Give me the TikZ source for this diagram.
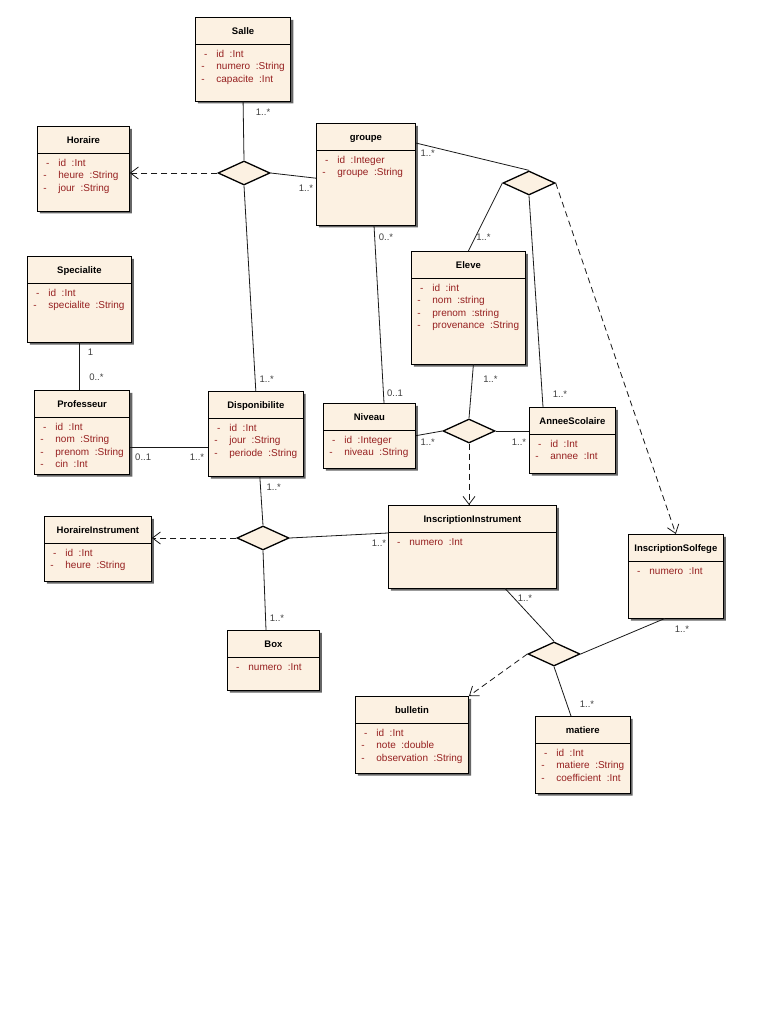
\documentclass[tikz,border=0pt]{standalone}
\usepackage{fontspec}
\setmainfont{Liberation Sans}
\usetikzlibrary{arrows.meta,calc,shapes.geometric,shapes.multipart,shadows}

\definecolor{classfill}{RGB}{252,241,226}
\definecolor{attrred}{RGB}{150,32,32}
\definecolor{multgray}{RGB}{64,64,64}

% class compartments (cattr takes the full box height in pt)
\newcommand{\cname}[1]{\rule[-9pt]{0pt}{26pt}{\bfseries\fontsize{9.5}{11}\selectfont #1}}
\newenvironment{cattr}[1]{\def\cdep{\dimexpr #1pt-40.5pt\relax}%
  \color{attrred}\begin{tabular}[t]{@{}p{15pt}@{}l@{}}\rule{0pt}{12.5pt}}%
  {\end{tabular}\rule[-\cdep]{0pt}{\cdep}}

\begin{document}
\begin{tikzpicture}[
    x=1pt, y=-1pt,
    classbox/.style={rectangle split, rectangle split parts=2,
                     rectangle split part align={center,left},
                     draw=black, line width=0.8pt, fill=classfill,
                     drop shadow={shadow xshift=2.5pt, shadow yshift=-2.5pt,
                                  fill=black!60, opacity=1},
                     anchor=north west, inner xsep=6pt, inner ysep=0pt,
                     font={\fontsize{10}{12.5}\selectfont}, text=black},
    link/.style    ={diamond, draw=black, line width=1.3pt,
                     fill=classfill, minimum width=52pt, minimum height=24pt,
                     inner sep=0pt},
    assoc/.style   ={draw=black!90, line width=0.8pt},
    dep/.style     ={assoc, dash pattern=on 6pt off 4pt,
                     -{Straight Barb[length=8pt,width=12pt]}},
    mult/.style    ={font={\fontsize{9.5}{11}\selectfont}, text=multgray,
                     inner sep=0pt},
]
\useasboundingbox[fill=white] (0,0) rectangle (768,1024);

% ----------------------------------------------------------------------
%  classes
% ----------------------------------------------------------------------
\node[classbox, minimum width=95pt] (salle) at (195,17)
    {\cname{Salle}\nodepart{second}\begin{cattr}{84}
     - & id~~:Int\\ - & numero~~:String\\ - & capacite~~:Int\end{cattr}};
\node[classbox, minimum width=92pt] (horaire) at (37,126)
    {\cname{Horaire}\nodepart{second}\begin{cattr}{85}
     - & id~~:Int\\ - & heure~~:String\\ - & jour~~:String\end{cattr}};
\node[classbox, minimum width=99pt] (groupe) at (316,123)
    {\cname{groupe}\nodepart{second}\begin{cattr}{102}
     - & id~~:Integer\\ - & groupe~~:String\end{cattr}};
\node[classbox, minimum width=104pt] (specialite) at (27,256)
    {\cname{Specialite}\nodepart{second}\begin{cattr}{86}
     - & id~~:Int\\ - & specialite~~:String\end{cattr}};
\node[classbox, minimum width=95pt] (professeur) at (34,390)
    {\cname{Professeur}\nodepart{second}\begin{cattr}{84}
     - & id~~:Int\\ - & nom~~:String\\ - & prenom~~:String\\ - & cin~~:Int\end{cattr}};
\node[classbox, minimum width=92pt] (dispo) at (208,391)
    {\cname{Disponibilite}\nodepart{second}\begin{cattr}{85}
     - & id~~:Int\\ - & jour~~:String\\ - & periode~~:String\end{cattr}};
\node[classbox, minimum width=114pt] (eleve) at (411,251)
    {\cname{Eleve}\nodepart{second}\begin{cattr}{113}
     - & id~~:int\\ - & nom~~:string\\ - & prenom~~:string\\
     - & provenance~~:String\end{cattr}};
\node[classbox, minimum width=92pt] (niveau) at (323,403)
    {\cname{Niveau}\nodepart{second}\begin{cattr}{65}
     - & id~~:Integer\\ - & niveau~~:String\end{cattr}};
\node[classbox, minimum width=86pt] (annee) at (529,407)
    {\cname{AnneeScolaire}\nodepart{second}\begin{cattr}{66}
     - & id~~:Int\\ - & annee~~:Int\end{cattr}};
\node[classbox, minimum width=107pt] (horinst) at (44,516)
    {\cname{HoraireInstrument}\nodepart{second}\begin{cattr}{65}
     - & id~~:Int\\ - & heure~~:String\end{cattr}};
\node[classbox, minimum width=168pt] (inscinst) at (388,505)
    {\cname{InscriptionInstrument}\nodepart{second}\begin{cattr}{83}
     - & numero~~:Int\end{cattr}};
\node[classbox, minimum width=94pt] (inscsolf) at (628,534)
    {\cname{InscriptionSolfege}\nodepart{second}\begin{cattr}{84}
     - & numero~~:Int\end{cattr}};
\node[classbox, minimum width=92pt] (box) at (227,630)
    {\cname{Box}\nodepart{second}\begin{cattr}{60}
     - & numero~~:Int\end{cattr}};
\node[classbox, minimum width=113pt] (bulletin) at (355,696)
    {\cname{bulletin}\nodepart{second}\begin{cattr}{77}
     - & id~~:Int\\ - & note~~:double\\ - & observation~~:String\end{cattr}};
\node[classbox, minimum width=94pt] (matiere) at (535,716)
    {\cname{matiere}\nodepart{second}\begin{cattr}{77}
     - & id~~:Int\\ - & matiere~~:String\\ - & coefficient~~:Int\end{cattr}};

% ----------------------------------------------------------------------
%  n-ary association diamonds
% ----------------------------------------------------------------------
\node[link] (dsalle)  at (244,173) {};
\node[link] (dgroupe) at (529,183) {};
\node[link] (deleve)  at (469,431) {};
\node[link] (dinst)   at (263,538) {};
\node[link] (dnote)   at (554,654) {};

% --- Salle / groupe / Disponibilite -> Horaire ---
\draw[assoc] (salle.south) -- (dsalle.north)
      node[mult, at start, xshift=20pt, yshift=-11pt] {1..*};
\draw[dep]   (dsalle.west) -- (dsalle.west -| horaire.east);
\draw[assoc] (dsalle.east) -- ([yshift=-4pt]groupe.west)
      node[mult, at end, xshift=-10pt, yshift=-10pt] {1..*};
\draw[assoc] (dsalle.south) -- (dispo.north)
      node[mult, at end, xshift=11pt, yshift=12pt] {1..*};

% --- groupe / Eleve / AnneeScolaire -> InscriptionSolfege ---
\draw[assoc] ($(groupe.north east)+(0,20)$) -- (dgroupe.north)
      node[mult, at start, xshift=12pt, yshift=-10pt] {1..*};
\draw[assoc] (dgroupe.west) -- (eleve.north)
      node[mult, at end, xshift=15pt, yshift=14pt] {1..*};
\draw[assoc] (dgroupe.south) -- ($(annee.north west)+(14,0)$)
      node[mult, at end, xshift=17pt, yshift=13pt] {1..*};
\draw[dep]   (dgroupe.east) -- (inscsolf.north);

% --- groupe -- Niveau ---
\draw[assoc] ($(groupe.south west)+(58,0)$) -- ($(niveau.north west)+(61,0)$)
      node[mult, at start, xshift=12pt, yshift=-12pt] {0..*}
      node[mult, at end, xshift=11pt, yshift=10pt] {0..1};

% --- Specialite -- Professeur -- Disponibilite ---
\draw[assoc] (specialite.south) -- (specialite.south |- professeur.north)
      node[mult, at start, xshift=11pt, yshift=-10pt] {1}
      node[mult, at end, xshift=17pt, yshift=13pt] {0..*};
\draw[assoc] ([yshift=-15pt]professeur.east) -- ([yshift=-15pt]professeur.east -| dispo.west)
      node[mult, at start, xshift=13pt, yshift=-10pt] {0..1}
      node[mult, at end, xshift=-11pt, yshift=-10pt] {1..*};

% --- Eleve / Niveau / AnneeScolaire -> InscriptionInstrument ---
\draw[assoc] ($(eleve.south)+(5,0)$) -- (deleve.north)
      node[mult, at start, xshift=17pt, yshift=-15pt] {1..*};
\draw[assoc] (niveau.east) -- (deleve.west)
      node[mult, at start, xshift=12pt, yshift=-7pt] {1..*};
\draw[assoc] (deleve.east) -- (deleve.east -| annee.west)
      node[mult, at end, xshift=-10pt, yshift=-11pt] {1..*};
\draw[dep]   (deleve.south) -- (deleve.south |- inscinst.north);

% --- Disponibilite / InscriptionInstrument / Box -> HoraireInstrument ---
\draw[assoc] ($(dispo.south)+(4,0)$) -- (dinst.north)
      node[mult, at start, xshift=14pt, yshift=-11pt] {1..*};
\draw[dep]   (dinst.west) -- (dinst.west -| horinst.east);
\draw[assoc] (dinst.east) -- ($(inscinst.north west)+(0,28)$)
      node[mult, at end, xshift=-9pt, yshift=-10pt] {1..*};
\draw[assoc] (dinst.south) -- ($(box.north west)+(39,0)$)
      node[mult, at end, xshift=11pt, yshift=12pt] {1..*};

% --- Inscriptions / matiere -> bulletin ---
\draw[assoc] ($(inscinst.south west)+(117,0)$) -- (dnote.north)
      node[mult, at start, xshift=20pt, yshift=-10pt] {1..*};
\draw[assoc] ($(inscsolf.south west)+(37,0)$) -- (dnote.east)
      node[mult, at start, xshift=17pt, yshift=-11pt] {1..*};
\draw[dep]   (dnote.west) -- (bulletin.north east);
\draw[assoc] (dnote.south) -- ($(matiere.north west)+(36,0)$)
      node[mult, at end, xshift=16pt, yshift=12pt] {1..*};

\end{tikzpicture}
\end{document}
